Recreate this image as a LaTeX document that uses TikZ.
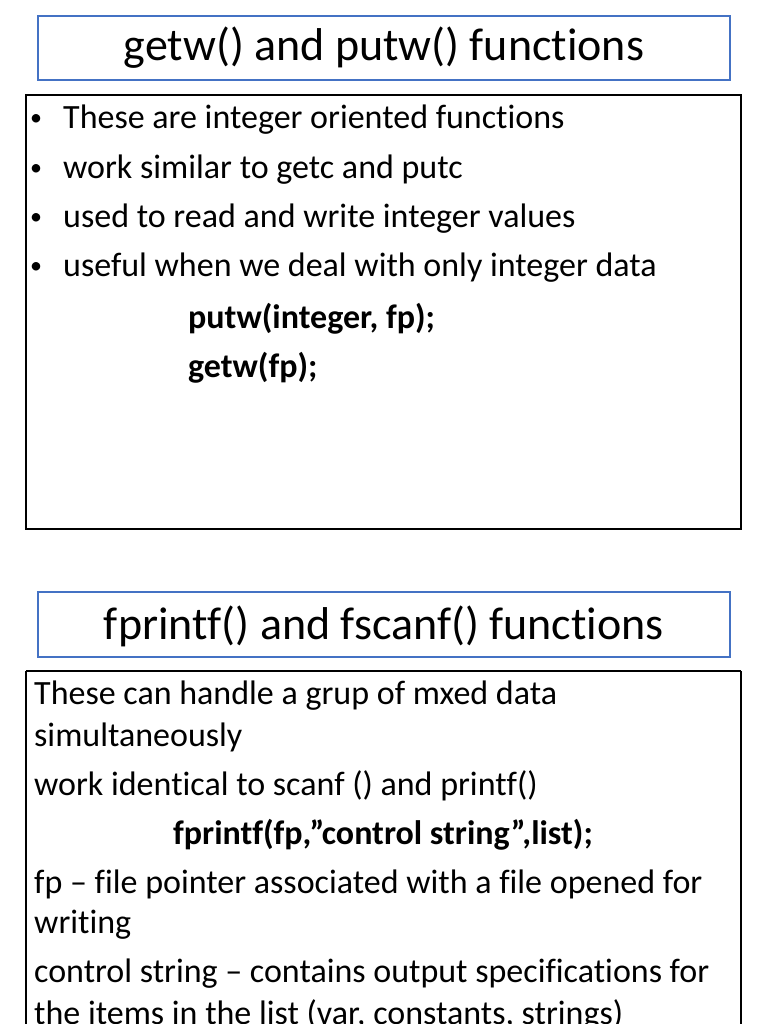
\documentclass[tikz,border=0pt]{standalone}
\usepackage{fontspec}
\setmainfont{Carlito}[Ligatures=NoCommon]
\definecolor{tblue}{HTML}{4472C4}
\begin{document}
\begin{tikzpicture}[x=1pt,y=-1pt,
  tbox/.style={draw=tblue,line width=1.2pt},
  cbox/.style={draw=black,line width=1.2pt},
  ttl/.style={font=\fontsize{46}{54}\selectfont},
  txt/.style={font=\fontsize{34}{40}\selectfont,anchor=west,inner sep=0pt},
  btxt/.style={txt,font=\fontsize{34}{40}\selectfont\bfseries}]
\useasboundingbox (0,0) rectangle (768,1024);
\draw[tbox] (38,16) rectangle (730,80);
\node[ttl] (t1) at (384,48) {getw() and putw() functions};
\draw[cbox] (26,95) rectangle (741,529);
\foreach \y/\t [count=\i] in {120/These are integer oriented functions,170/work similar to getc and putc,219/used to read and write integer values,268/useful when we deal with only integer data}{
  \node[txt,font=\fontsize{24}{28}\selectfont] (b\i) at (30,\y) {•};
  \node[txt] (l\i) at (63,\y) {\t};
}
\node[btxt] (p1) at (188,319) {putw(integer, fp);};
\node[btxt] (p2) at (188,368) {getw(fp);};
\draw[tbox] (38,592) rectangle (730,657);
\node[ttl] (t2) at (384,626) {fprintf() and fscanf() functions};
\draw[cbox] (26,671) -- (26,1030) (741,671) -- (741,1030) (26,671) -- (741,671);
\node[txt] (m1) at (34,696) {These can handle a grup of mxed data};
\node[txt] (m2) at (34,737) {simultaneously};
\node[txt] (m3) at (34,786) {work identical to scanf () and printf()};
\node[btxt,anchor=center] (m4) at (383,835) {fprintf(fp,”control string”,list);};
\node[txt] (m5) at (34,884) {fp – file pointer associated with a file opened for};
\node[txt] (m6) at (34,925) {writing};
\node[txt] (m7) at (34,974) {control string – contains output specifications for};
\node[txt] (m8) at (34,1015) {the items in the list (var, constants, strings)};
\end{tikzpicture}
\end{document}
